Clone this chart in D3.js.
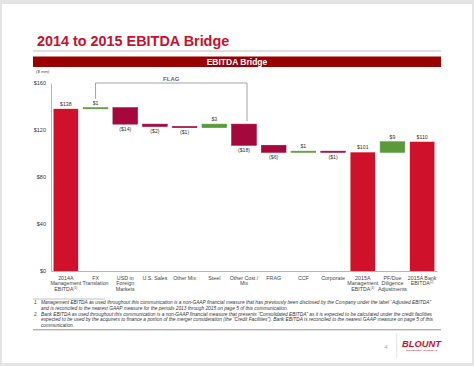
<!DOCTYPE html>
<html>
<head>
<meta charset="utf-8">
<script src="https://cdn.jsdelivr.net/npm/d3@7"></script>
<style>
  html, body { margin: 0; padding: 0; background: #e4e4e4; }
  svg { display: block; font-family: "Liberation Sans", Arial, sans-serif; }
</style>
</head>
<body>
<svg id="chart" width="474" height="366"></svg>
<script>
// ---------------- data ----------------
const categories = ["2014A Mgmt", "FX", "USD", "US Sales", "Other Mix", "Steel", "Other Cost", "FRAG", "CCF", "Corporate", "2015A Mgmt", "PF/Due", "2015A Bank"];
const categoryLines = [
  ["2014A", "Management", "EBITDA|(1)"],
  ["FX", "Translation"],
  ["USD in", "Foreign", "Markets"],
  ["U.S. Sales"],
  ["Other Mix"],
  ["Steel"],
  ["Other Cost /", "Mix"],
  ["FRAG"],
  ["CCF"],
  ["Corporate"],
  ["2015A", "Management", "EBITDA|(1)"],
  ["PF/Due", "Diligence", "Adjustments"],
  ["2015A Bank", "EBITDA|(2)"]
];
const values = [138, 1, -14, -2, -1, 3, -18, -6, 1, -1, 101, 9, 110];
const barTypes = ["total", "delta", "delta", "delta", "delta", "delta", "delta", "delta", "delta", "delta", "total", "delta", "total"];
const valueLabels = ["$138", "$1", "($14)", "($2)", "($1)", "$3", "($18)", "($6)", "$1", "($1)", "$101", "$9", "$110"];
const yTicks = [0, 40, 80, 120, 160];
const yTickLabels = ["$0", "$40", "$80", "$120", "$160"];
const flagFrom = "FX", flagTo = "Other Cost";
const footnotes = [
  ["1.", "Management EBITDA as used throughout this communication is a non-GAAP financial measure that has previously been disclosed by the Company under the label \u201cAdjusted EBITDA\u201d", 390],
  ["", "and is reconciled to the nearest GAAP measure for the periods 2013 through 2015 on page 5 of this communication.", 247],
  ["2.", "Bank EBITDA as used throughout this communication is a non-GAAP financial measure that presents \u201cConsolidated EBITDA\u201d as it is expected to be calculated under the credit facilities", 391],
  ["", "expected to be used by the acquirers to finance a portion of the merger consideration (the \u201cCredit Facilities\u201d). Bank EBITDA is reconciled to the nearest GAAP measure on page 5 of this", 392],
  ["", "communication.", 33]
];

// ---------------- layout ----------------
const svg = d3.select("#chart");
const RED = "#d0112b", MAROON = "#a4083d", GREEN = "#5a9a3a", AXIS = "#e9a0a8";

// page
svg.append("rect").attr("x", 2).attr("y", 4).attr("width", 470).attr("height", 359).attr("fill", "#fff");

// title
svg.append("text").attr("x", 37).attr("y", 45.5).attr("fill", "#c8102e")
  .attr("font-size", 14.4).attr("font-weight", "bold").text("2014 to 2015 EBITDA Bridge");
svg.append("line").attr("x1", 33).attr("x2", 441).attr("y1", 51).attr("y2", 51)
  .attr("stroke", "#d4d4d8").attr("stroke-width", 1.5);

// banner
svg.append("rect").attr("x", 33).attr("y", 56.5).attr("width", 408).attr("height", 10.5).attr("fill", "#990000");
svg.append("text").attr("x", 237).attr("y", 65).attr("text-anchor", "middle").attr("fill", "#fff")
  .attr("font-size", 8.5).attr("font-weight", "bold").text("EBITDA Bridge");
svg.append("text").attr("x", 36).attr("y", 72.5).attr("fill", "#444").attr("font-size", 4.2)
  .attr("font-style", "italic").text("($ mm)");

// scales
const x = d3.scaleBand().domain(categories).range([51, 437]).paddingInner(0.17).paddingOuter(0.085);
const y = d3.scaleLinear().domain([0, 160]).range([271, 83]);

// compute waterfall
let running = 0;
const bars = values.map((v, i) => {
  let lo, hi;
  if (barTypes[i] === "total") { lo = 0; hi = v; running = v; }
  else { const s = running; running = s + v; lo = Math.min(s, running); hi = Math.max(s, running); }
  return { cat: categories[i], v, lo, hi, type: barTypes[i], label: valueLabels[i], lines: categoryLines[i] };
});

// y axis
const yAxis = d3.axisLeft(y).tickValues(yTicks).tickSize(0).tickPadding(5)
  .tickFormat((d, i) => yTickLabels[i]);
const gy = svg.append("g").attr("transform", "translate(51,0)").call(yAxis);
gy.select(".domain").attr("stroke", AXIS).attr("stroke-width", 1);
gy.selectAll("text").attr("font-size", 5.5).attr("fill", "#333").attr("font-family", "Liberation Sans, Arial, sans-serif");

// bars
svg.append("g").selectAll("rect").data(bars).join("rect")
  .attr("x", d => x(d.cat))
  .attr("width", x.bandwidth())
  .attr("y", d => y(d.hi))
  .attr("height", d => y(d.lo) - y(d.hi))
  .attr("fill", d => d.type === "total" ? RED : (d.v > 0 ? GREEN : MAROON))
  .attr("stroke", d => d.type === "total" ? RED : (d.v > 0 ? GREEN : MAROON))
  .attr("stroke-width", d => d.type === "total" ? 0 : 0.6);

// x axis
const xAxis = d3.axisBottom(x).tickSize(0).tickFormat("");
const gx = svg.append("g").attr("transform", "translate(0,271)").call(xAxis);
gx.select(".domain").attr("stroke", AXIS).attr("stroke-width", 1);

// value labels
svg.append("g").selectAll("text").data(bars).join("text")
  .attr("x", d => x(d.cat) + x.bandwidth() / 2)
  .attr("y", d => d.v >= 0 ? y(d.hi) - 3 : y(d.lo) + 6.5)
  .attr("text-anchor", "middle").attr("font-size", 5.2).attr("fill", "#333")
  .text(d => d.label);

// category labels
const catG = svg.append("g").selectAll("text").data(bars).join("text")
  .attr("text-anchor", "middle").attr("font-size", 5.3).attr("fill", "#444")
  .attr("x", d => x(d.cat) + x.bandwidth() / 2);
catG.each(function(d) {
  const t = d3.select(this);
  d.lines.forEach((ln, j) => {
    const parts = ln.split("|");
    t.append("tspan").attr("x", x(d.cat) + x.bandwidth() / 2).attr("y", 279.5 + j * 5.6).text(parts[0]);
    if (parts[1]) t.append("tspan").attr("font-size", 3.2).attr("dy", -1.8).text(parts[1]);
  });
});

// FLAG bracket
const bFrom = bars.find(b => b.cat === flagFrom), bTo = bars.find(b => b.cat === flagTo);
const fx1 = x(flagFrom) + x.bandwidth() / 2, fx2 = x(flagTo) + x.bandwidth() / 2 + 3;
const fTop = y(160);
svg.append("path")
  .attr("d", `M${fx1},${y(bFrom.hi) - 9}V${fTop}H${fx2}V${y(bTo.hi) - 3}`)
  .attr("fill", "none").attr("stroke", "#999").attr("stroke-width", 0.9);
svg.append("text").attr("x", (fx1 + fx2) / 2).attr("y", 80.5).attr("text-anchor", "middle")
  .attr("font-size", 6).attr("font-weight", "bold").attr("fill", "#666").text("FLAG");

// footnotes
svg.append("line").attr("x1", 33).attr("x2", 105).attr("y1", 299).attr("y2", 299).attr("stroke", "#999").attr("stroke-width", 0.6);
const fnY = [304, 310, 315.5, 321, 326.5];
footnotes.forEach((f, i) => {
  if (f[0]) svg.append("text").attr("x", 34).attr("y", fnY[i]).attr("font-size", 4.6).attr("font-style", "italic").attr("fill", "#333").text(f[0]);
  svg.append("text").attr("x", 41).attr("y", fnY[i]).attr("font-size", 4.6).attr("font-style", "italic").attr("fill", "#333")
    .attr("textLength", f[2]).attr("lengthAdjust", "spacingAndGlyphs").text(f[1]);
});
svg.append("line").attr("x1", 33).attr("x2", 441).attr("y1", 329.8).attr("y2", 329.8).attr("stroke", "#888").attr("stroke-width", 0.9);

// page number + logo
svg.append("text").attr("x", 386).attr("y", 349).attr("font-size", 6).attr("fill", "#aaa").attr("text-anchor", "middle").text("4");
svg.append("line").attr("x1", 396.7).attr("x2", 396.7).attr("y1", 333).attr("y2", 358).attr("stroke", "#ddd").attr("stroke-width", 0.8);
svg.append("text").attr("x", 402).attr("y", 346.8).attr("font-size", 9.5).attr("font-weight", "bold").attr("font-style", "italic")
  .attr("fill", "#c8102e").attr("textLength", 39).attr("lengthAdjust", "spacingAndGlyphs").text("BLOUNT");
svg.append("text").attr("x", 406).attr("y", 350.8).attr("font-size", 2.2).attr("fill", "#c8102e")
  .attr("textLength", 32).attr("lengthAdjust", "spacingAndGlyphs").text("INTERNATIONAL");
</script>
</body>
</html>
